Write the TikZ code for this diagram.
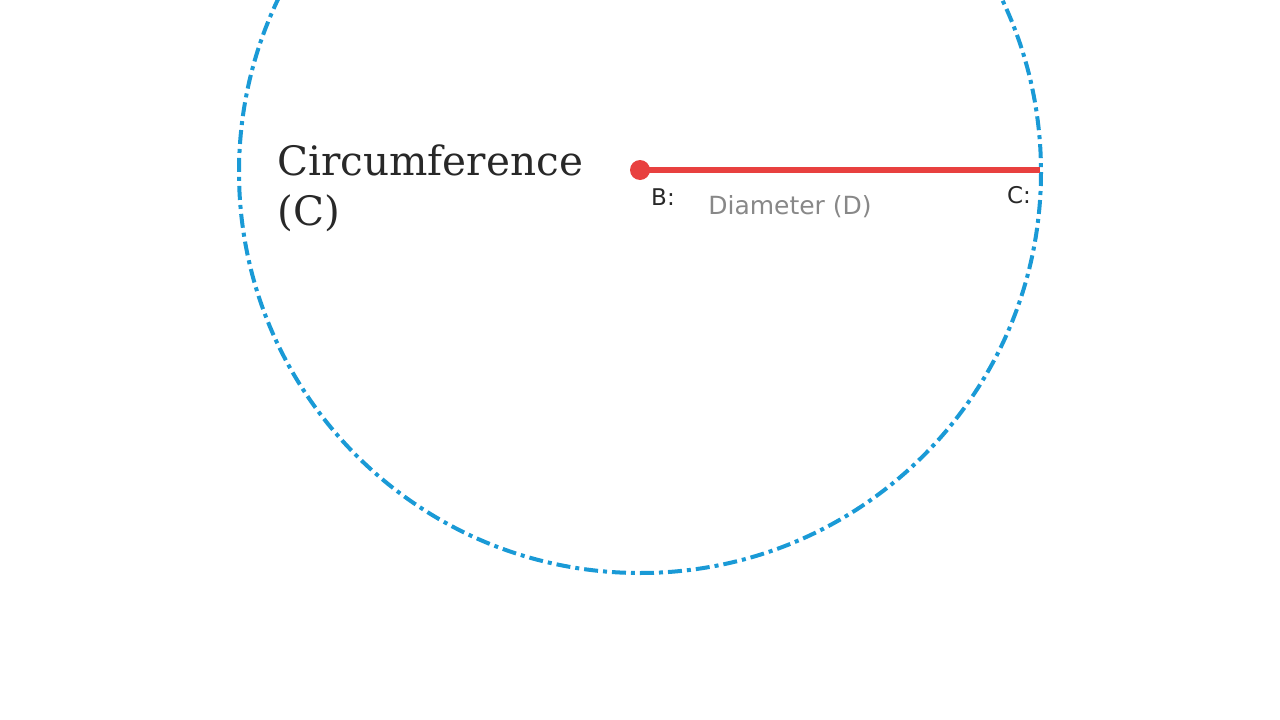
\documentclass[tikz,border=0pt]{standalone}
\usepackage{fontspec}
\setmainfont{DejaVu Serif}
\setsansfont{DejaVu Sans}
\definecolor{circblue}{RGB}{26, 154, 214}
\definecolor{diamred}{RGB}{232, 64, 63}
\definecolor{labelgray}{RGB}{136, 136, 136}
\definecolor{labeldark}{RGB}{40, 40, 40}

\begin{document}
\begin{tikzpicture}[x=1pt, y=-1pt]
\useasboundingbox (0,0) rectangle (1280,720);
\clip (0,0) rectangle (1280,720);

% Circle
\coordinate (O) at (640,170);
\draw[circblue, line width=4pt, dash pattern=on 14pt off 5pt on 4pt off 5pt] (640,172) circle[radius=401];

% Diameter
\coordinate (C) at (1040,170);
\draw[diamred, line width=6pt] (O) -- (C);
\node[circle, fill=diamred, inner sep=0pt, minimum size=20pt] (B) at (O) {};

% Labels
\node[anchor=west, align=left, text=labeldark, font=\fontsize{40.5}{50}\selectfont] (circ) at (274,188) {Circumference\\(C)};
\node[text=labeldark, font=\sffamily\fontsize{23}{26}\selectfont] (blabel) at (663,197) {B:};
\node[text=labeldark, font=\sffamily\fontsize{23}{26}\selectfont] (clabel) at (1019,195) {C:};
\node[text=labelgray, font=\sffamily\fontsize{25}{28}\selectfont] (dlabel) at (790,207) {Diameter (D)};
\end{tikzpicture}
\end{document}
